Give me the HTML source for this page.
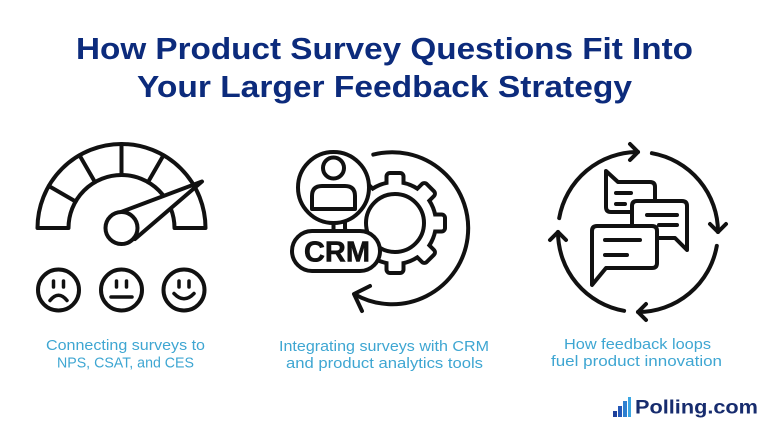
<!DOCTYPE html>
<html><head><meta charset="utf-8"><style>
html,body{margin:0;padding:0;background:#fff;}
svg{display:block;}
</style></head><body>
<svg width="768" height="432" viewBox="0 0 768 432" xmlns="http://www.w3.org/2000/svg">
<rect width="768" height="432" fill="#fff"/>
<g font-family="Liberation Sans, sans-serif" font-weight="bold" fill="#0c2b7c" font-size="31">
<text x="76" y="59" textLength="617" lengthAdjust="spacingAndGlyphs">How Product Survey Questions Fit Into</text>
<text x="137" y="97" textLength="495" lengthAdjust="spacingAndGlyphs">Your Larger Feedback Strategy</text>
</g>

<!-- Speedometer -->
<g stroke="#111" stroke-width="4" fill="none" stroke-linecap="round" stroke-linejoin="round">
<path d="M37.5 228 A84 84 0 0 1 205.5 228 L174.5 228 A53 53 0 0 0 68.5 228 Z" fill="#fff"/>
<line x1="167.4" y1="201.5" x2="194.2" y2="186"/>
<line x1="148" y1="182.1" x2="163.5" y2="155.3"/>
<line x1="121.5" y1="175" x2="121.5" y2="144"/>
<line x1="95" y1="182.1" x2="79.5" y2="155.3"/>
<line x1="75.6" y1="201.5" x2="48.8" y2="186"/>
<polygon points="202,181.5 113,215 135,239" fill="#fff"/>
<circle cx="121.5" cy="228" r="16" fill="#fff"/>
<circle cx="58.5" cy="290" r="20.5"/>
<circle cx="121.5" cy="290" r="20.5"/>
<circle cx="184" cy="290" r="20.5"/>
<g stroke-width="3.5">
<line x1="53.5" y1="281" x2="53.5" y2="287"/><line x1="63.5" y1="281" x2="63.5" y2="287"/>
<line x1="116.5" y1="281" x2="116.5" y2="287"/><line x1="126.5" y1="281" x2="126.5" y2="287"/>
<line x1="179" y1="281" x2="179" y2="287"/><line x1="189" y1="281" x2="189" y2="287"/>
<path d="M50 300.5 Q58.5 290 67 300.5"/>
<line x1="111" y1="297" x2="132" y2="297"/>
<path d="M174 293.5 Q184 304 194 293.5"/>
</g>
</g>

<!-- CRM icon -->
<g stroke="#111" stroke-width="4" fill="none" stroke-linecap="round" stroke-linejoin="round">
<path d="M373.3 154.6 A76 76 0 1 1 355 294.5"/>
<polyline points="370,286 354,294 362,311"/>
<g transform="translate(395,223)">
<g stroke-width="8" fill="#111">
<circle r="39"/>
<rect x="-6.5" y="-48" width="13" height="14" rx="1.5"/>
<rect x="-6.5" y="-48" width="13" height="14" rx="1.5" transform="rotate(45)"/>
<rect x="-6.5" y="-48" width="13" height="14" rx="1.5" transform="rotate(90)"/>
<rect x="-6.5" y="-48" width="13" height="14" rx="1.5" transform="rotate(135)"/>
<rect x="-6.5" y="-48" width="13" height="14" rx="1.5" transform="rotate(180)"/>
<rect x="-6.5" y="-48" width="13" height="14" rx="1.5" transform="rotate(225)"/>
<rect x="-6.5" y="-48" width="13" height="14" rx="1.5" transform="rotate(270)"/>
<rect x="-6.5" y="-48" width="13" height="14" rx="1.5" transform="rotate(315)"/>
</g>
<g stroke="none" fill="#fff">
<circle r="39"/>
<rect x="-6.5" y="-48" width="13" height="14" rx="1.5"/>
<rect x="-6.5" y="-48" width="13" height="14" rx="1.5" transform="rotate(45)"/>
<rect x="-6.5" y="-48" width="13" height="14" rx="1.5" transform="rotate(90)"/>
<rect x="-6.5" y="-48" width="13" height="14" rx="1.5" transform="rotate(135)"/>
<rect x="-6.5" y="-48" width="13" height="14" rx="1.5" transform="rotate(180)"/>
<rect x="-6.5" y="-48" width="13" height="14" rx="1.5" transform="rotate(225)"/>
<rect x="-6.5" y="-48" width="13" height="14" rx="1.5" transform="rotate(270)"/>
<rect x="-6.5" y="-48" width="13" height="14" rx="1.5" transform="rotate(315)"/>
</g>
<circle r="29"/>
</g>
<circle cx="333.5" cy="187.5" r="35.5" fill="#fff"/>
<circle cx="333.5" cy="168" r="10.5"/>
<path d="M312 209 L312 196 Q312 186 322 186 L345 186 Q355 186 355 196 L355 209 Z"/>
<line x1="333.5" y1="223" x2="333.5" y2="231"/>
<rect x="292" y="231" width="88" height="40" rx="20" fill="#fff"/>
</g>
<text x="304" y="261.5" font-family="Liberation Sans, sans-serif" font-weight="bold" font-size="29" fill="#111" stroke="#111" stroke-width="0.6" textLength="66" lengthAdjust="spacingAndGlyphs">CRM</text>

<!-- Feedback loop icon -->
<g stroke="#111" stroke-width="4" fill="none" stroke-linecap="round" stroke-linejoin="round">
<path d="M559.2 218.1 A80 80 0 0 1 638 152"/>
<polyline points="630,144 638,152 630,160"/>
<path d="M651.9 153.2 A80 80 0 0 1 718 232"/>
<polyline points="710,224 718,232 726,224"/>
<path d="M716.8 245.9 A80 80 0 0 1 638 312"/>
<polyline points="646,304 638,312 646,320"/>
<path d="M624.1 310.8 A80 80 0 0 1 558 232"/>
<polyline points="550,240 558,232 566,240"/>
<path d="M606 171 L618 182 L650 182 Q655 182 655 187 L655 207 Q655 212 650 212 L611 212 Q606 212 606 207 Z" fill="#fff"/>
<line x1="616" y1="193" x2="631" y2="193"/><line x1="616" y1="204" x2="625" y2="204"/>
<path d="M637 201 L682 201 Q687 201 687 206 L687 250 L675 238 L637 238 Q632 238 632 233 L632 206 Q632 201 637 201 Z" fill="#fff"/>
<line x1="647" y1="215" x2="677" y2="215"/><line x1="659" y1="225" x2="677" y2="225"/>
<path d="M597 226 L652 226 Q657 226 657 231 L657 263 Q657 268 652 268 L606 268 L592 285 L592 231 Q592 226 597 226 Z" fill="#fff"/>
<line x1="605" y1="240" x2="640" y2="240"/><line x1="605" y1="255" x2="627" y2="255"/>
</g>

<!-- Captions -->
<g font-family="Liberation Sans, sans-serif" font-size="15" fill="#3ea6d2">
<text x="46" y="350" textLength="159" lengthAdjust="spacingAndGlyphs">Connecting surveys to</text>
<text x="57" y="367.5" textLength="137" lengthAdjust="spacingAndGlyphs">NPS, CSAT, and CES</text>
<text x="279" y="351" textLength="210" lengthAdjust="spacingAndGlyphs">Integrating surveys with CRM</text>
<text x="286" y="368" textLength="197" lengthAdjust="spacingAndGlyphs">and product analytics tools</text>
<text x="564" y="349" textLength="147" lengthAdjust="spacingAndGlyphs">How feedback loops</text>
<text x="551" y="366" textLength="171" lengthAdjust="spacingAndGlyphs">fuel product innovation</text>
</g>

<!-- Logo -->
<g>
<rect x="613" y="411" width="4" height="6" fill="#1d3f9a"/>
<rect x="618" y="406" width="4" height="11" fill="#2458b8"/>
<rect x="623" y="401" width="4" height="16" fill="#2d7fd0"/>
<rect x="628" y="397" width="3" height="20" fill="#3aa6e3"/>
</g>
<text x="635" y="413.5" font-family="Liberation Sans, sans-serif" font-weight="bold" font-size="19" fill="#172c6e" textLength="123" lengthAdjust="spacingAndGlyphs">Polling.com</text>
</svg>
</body></html>
